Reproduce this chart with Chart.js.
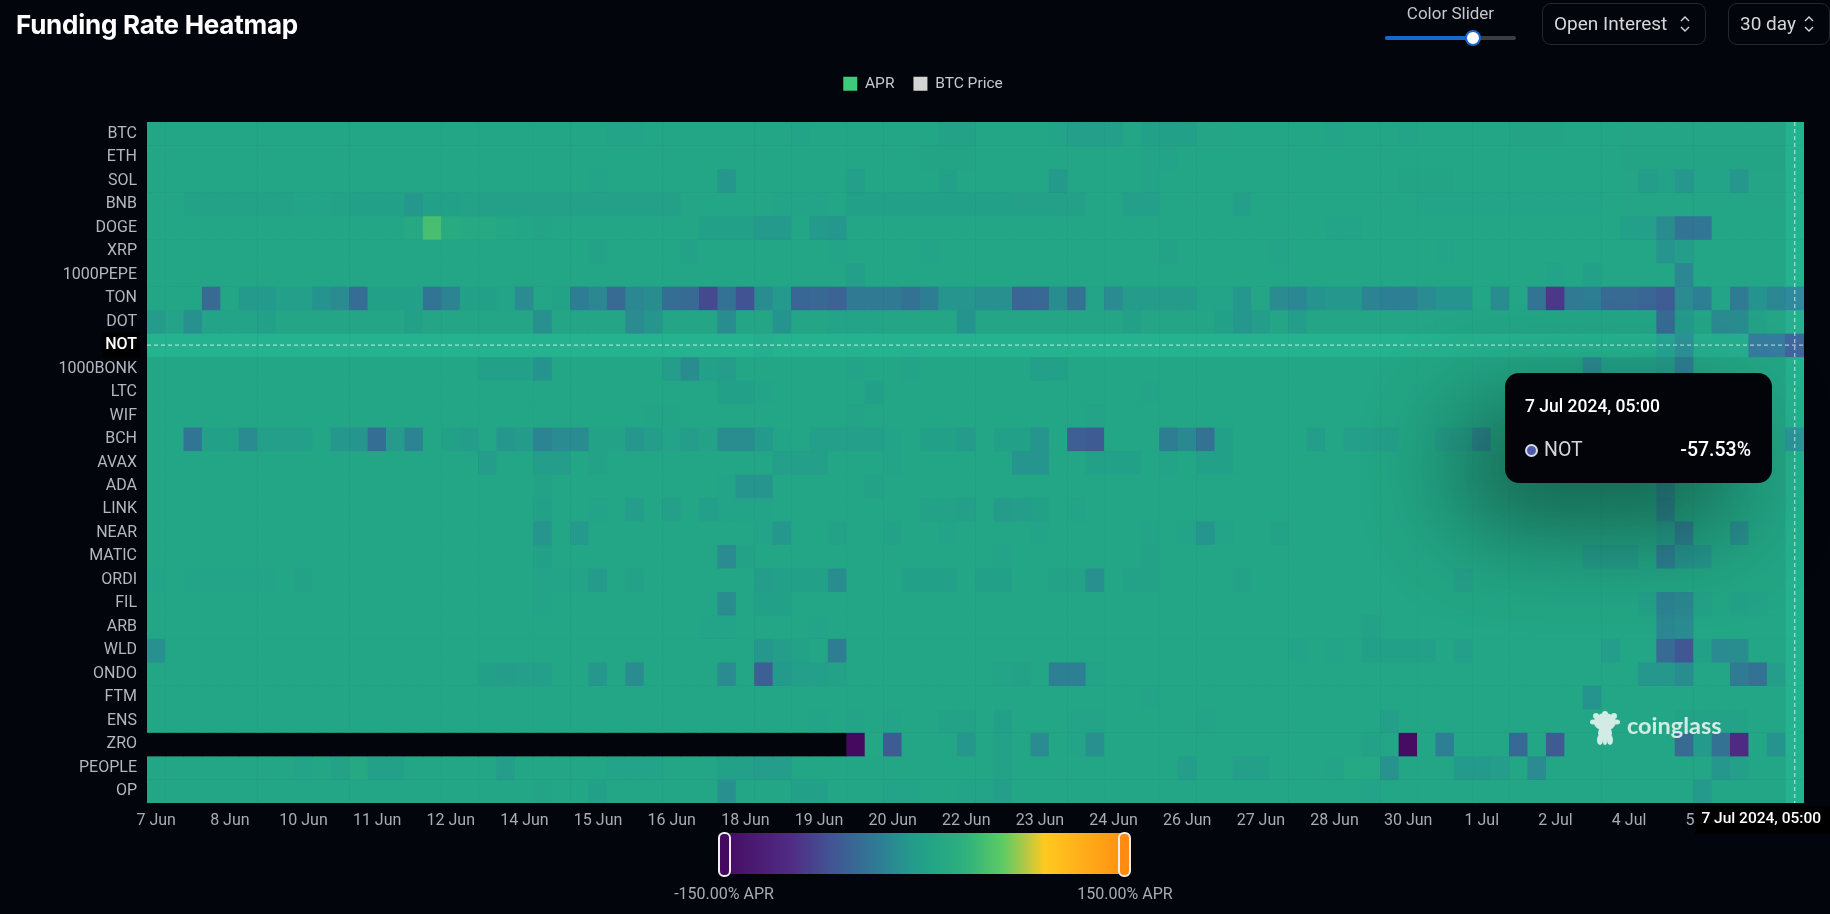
<!DOCTYPE html>
<html>
<head>
<meta charset="utf-8">
<title>Funding Rate Heatmap</title>
<script src="https://cdn.jsdelivr.net/npm/chart.js@4"></script>
<style>
    html, body { margin: 0; padding: 0; background: #03050c; width: 1830px; height: 914px; overflow: hidden; font-family: Roboto, sans-serif; }
    #wrap { position: relative; width: 1830px; height: 914px; }
    canvas { position: absolute; left: 0; top: 0; }
    .abs { position: absolute; white-space: nowrap; }
    #title { left: 16px; top: 9px; font: 700 26px Inter, sans-serif; letter-spacing: -0.25px; color: #fff; }
    #sliderLabel { left: 1385px; width: 131px; top: 3px; text-align: center; font-size: 17px; color: #c4c7cc; }
    #track { left: 1385px; top: 36px; width: 131px; height: 4px; background: #3a3d42; border-radius: 2px; }
    #trackFill { left: 1385px; top: 36px; width: 88px; height: 4px; background: #1668d0; border-radius: 2px; }
    #thumb { left: 1465px; top: 30px; width: 12px; height: 12px; background: #fff; border: 2px solid #1668d0; border-radius: 50%; }
    .select { top: 3px; height: 40px; line-height: 40px; border: 1px solid #24272e; border-radius: 9px; color: #d5d7da; font-size: 19px; padding-left: 11px; box-sizing: content-box; }
    .select svg { position: absolute; right: 15px; top: 10px; }
    #colorBar { left: 718px; top: 833px; width: 412px; height: 41px; border-radius: 3px; }
    .handle { top: 832px; width: 9px; height: 41px; border: 2px solid #eee; border-radius: 6px; }
    .barLabel { top: 884px; width: 160px; text-align: center; font-size: 16px; color: #a9acb1; }
    #tip { left: 1505px; top: 373px; width: 267px; height: 110px; background: #02040a; border-radius: 14px; box-shadow: -40px 40px 100px rgba(0, 0, 0, 0.45); color: #fff; }
    #tipDate { position: absolute; left: 20px; top: 23px; font-size: 17.5px; font-weight: 500; }
    #tipDot { position: absolute; left: 20px; top: 71px; width: 9px; height: 9px; border-radius: 50%; border: 2px solid #d5d9e8; }
    #tipName { position: absolute; left: 39px; top: 65px; font-size: 19.5px; color: #d5d7da; }
    #tipValue { position: absolute; right: 21px; top: 65px; font-size: 19.5px; font-weight: 500; }
    #logo { left: 1590px; top: 711px; color: #d2ebe4; }
    #logoText { left: 1627px; top: 711px; font: 700 23.5px Lato, sans-serif; color: #d2ebe4; }
</style>
</head>
<body>
<div id="wrap">
    <canvas id="heatmap" width="1830" height="914"></canvas>
    <div class="abs" id="title">Funding Rate Heatmap</div>
    <div class="abs" id="sliderLabel">Color Slider</div>
    <div class="abs" id="track"></div>
    <div class="abs" id="trackFill"></div>
    <div class="abs" id="thumb"></div>
    <div class="abs select" style="left:1542px;width:151px">Open Interest<svg width="10" height="20" viewBox="0 0 10 20" fill="none" stroke="#d5d7da" stroke-width="1.4"><path d="M1 7l4-4 4 4M1 13l4 4 4-4"/></svg></div>
    <div class="abs select" style="left:1728px;width:89px">30 day<svg width="10" height="20" viewBox="0 0 10 20" fill="none" stroke="#d5d7da" stroke-width="1.4"><path d="M1 7l4-4 4 4M1 13l4 4 4-4"/></svg></div>
    <div class="abs" id="colorBar"></div>
    <div class="abs handle" style="left:718px;background:#45095f"></div>
    <div class="abs handle" style="left:1118px;background:#ff8c10"></div>
    <div class="abs barLabel" id="minLabel" style="left:644px"></div>
    <div class="abs barLabel" id="maxLabel" style="left:1045px"></div>
    <svg class="abs" id="logo" width="32" height="36" viewBox="0 0 32 36" fill="currentColor"><ellipse cx="15" cy="11" rx="11" ry="9"/><circle cx="6" cy="5" r="3"/><circle cx="24" cy="5" r="3"/><circle cx="15" cy="3" r="3"/><ellipse cx="3" cy="11" rx="3" ry="2.5"/><ellipse cx="27" cy="11" rx="3" ry="2.5"/><ellipse cx="15" cy="22" rx="7" ry="7"/><ellipse cx="10" cy="29" rx="3" ry="5"/><ellipse cx="20" cy="29" rx="3" ry="5"/><ellipse cx="15" cy="30" rx="2" ry="4"/></svg>
    <div class="abs" id="logoText">coinglass</div>
    <div class="abs" id="tip">
        <div id="tipDate"></div>
        <div id="tipDot"></div>
        <div id="tipName"></div>
        <div id="tipValue"></div>
    </div>
</div>
<script>
const symbols = ['BTC', 'ETH', 'SOL', 'BNB', 'DOGE', 'XRP', '1000PEPE', 'TON', 'DOT', 'NOT', '1000BONK', 'LTC', 'WIF', 'BCH', 'AVAX', 'ADA', 'LINK', 'NEAR', 'MATIC', 'ORDI', 'FIL', 'ARB', 'WLD', 'ONDO', 'FTM', 'ENS', 'ZRO', 'PEOPLE', 'OP']

// en etikett var fjärde kolumn
const xTickLabels = ['7 Jun', '8 Jun', '10 Jun', '11 Jun', '12 Jun', '14 Jun', '15 Jun', '16 Jun', '18 Jun', '19 Jun', '20 Jun', '22 Jun', '23 Jun', '24 Jun', '26 Jun', '27 Jun', '28 Jun', '30 Jun', '1 Jul', '2 Jul', '4 Jul', '5 Jul', '6 Jul']

const btc = [8,8,8,8,8,8,8,8,8,8, 8,8,8,8,8,8,8,8,8,8, 8,8,8,8,8,3,3,8,8,8, 8,8,8,8,8,3,8,8,8,8, 8,8,8,2,2,8,8,8,8,3, -2,-2,-2,6,0,0,0,6,6,8, 8,8,8,8,4,8,8,8,4,8, 8,8,8,8,7,7,7,8,8,8, 6,6,6,6,6,6,6,6,6,8]
const eth = [8,8,8,8,8,8,8,8,8,8, 8,8,8,8,8,8,8,8,8,8, 8,8,8,8,8,8,8,8,8,8, 8,8,6,8,8,8,8,8,8,8, 8,8,7,7,7,8,8,8,8,8, 8,8,8,8,4,4,8,8,8,8, 8,8,8,8,8,8,8,8,8,8, 8,8,8,8,8,8,8,8,8,8, 7,7,7,7,7,7,7,7,7,8]
const sol = [8,8,8,8,8,8,8,8,8,8, 8,8,8,8,8,8,8,8,8,8, 8,8,8,8,3,8,8,8,8,8, 8,-12,8,8,8,8,8,8,-2,8, 8,8,8,0,8,8,8,8,8,-10, 8,8,8,8,3,8,8,8,8,8, 8,8,8,8,8,8,8,8,7,7, 7,8,8,8,8,8,8,8,8,8, 6,-5,2,-12,3,3,-12,6,6,8]
const bnb = [8,8,2,2,2,2,2,2,3,3, 2,0,0,0,-12,0,0,2,-1,-1, -1,-1,-1,-1,-1,-1,-1,-1,-1,6, 8,8,8,8,3,3,3,8,1,1, 1,1,1,1,1,1,1,-1,-1,-1, -1,8,8,-3,-3,8,8,8,8,-2, 8,8,8,8,8,8,8,8,8,3, 3,3,3,3,3,3,3,3,3,8, 6,6,6,6,6,6,6,6,6,8]
const doge = [8,8,8,8,8,8,8,8,8,8, 8,8,8,8,14,45,20,15,15,10, 8,5,8,8,8,8,8,8,8,8, 0,0,0,-10,-10,8,-10,-12,8,8, 8,8,8,8,8,8,8,8,8,8, 8,8,8,8,8,8,8,8,8,8, 8,8,8,8,4,4,8,8,8,8, 8,8,8,8,8,8,8,8,8,8, 0,-2,-20,-40,-38,8,8,8,8,8]
const xrp = [8,8,8,8,8,8,8,8,8,8, 8,8,8,8,8,8,8,8,8,8, 8,8,8,8,2,8,8,8,8,2, 8,8,8,8,8,8,8,4,8,8, 8,8,3,8,8,8,8,8,8,8, 8,8,8,8,8,2,8,8,8,8, 8,3,8,8,8,8,8,8,8,8, 4,8,8,8,8,8,8,8,8,8, 8,8,-14,-5,8,8,8,8,8,8]
const pepe = [8,8,8,8,8,8,8,8,8,8, 8,8,8,8,8,8,8,8,8,8, 8,8,8,8,8,8,8,8,8,8, 8,8,8,8,8,8,8,8,-3,8, 8,8,8,8,8,8,8,8,8,8, 8,8,8,8,8,8,8,8,8,8, 8,8,8,8,8,8,8,8,8,8, 8,8,8,8,8,8,3,8,1,8, 8,8,8,-25,8,8,8,8,8,8]
const ton = [8,8,8,-48,8,-10,-10,-3,-3,-15, -22,-45,1,1,1,-40,-28,0,0,4, -22,6,2,-32,-25,-48,-25,-20,-45,-48, -75,-42,-68,-20,-10,-52,-50,-55,-35,-35, -35,-42,-32,-14,-14,-18,-18,-52,-50,-20, -42,3,-22,-8,-8,-8,-8,4,4,-12, 6,-22,-25,-15,-12,-12,-28,-30,-30,-22, -15,-15,8,-20,8,-40,-88,-35,-32,-48, -48,-52,-60,-22,-30,4,-35,-15,-25,-30]
const dot = [-8,4,-18,3,3,3,0,6,6,6, 6,6,6,6,0,6,6,6,6,6, 6,-18,6,6,6,6,-22,-14,6,6, 6,-20,6,6,-15,6,6,3,3,3, 6,6,6,6,-15,6,6,6,6,6, 6,6,6,1,6,6,6,6,0,-12, -5,6,-4,6,6,6,6,6,6,6, 6,6,6,6,6,6,6,6,6,6, 6,6,-48,-10,6,-22,-20,2,6,6]
const not = [8,8,8,8,8,8,8,8,8,8, 8,8,8,8,8,8,8,8,8,8, 8,8,8,8,8,8,8,8,8,8, 8,8,8,3,8,8,8,8,8,8, 8,8,8,8,8,8,8,8,8,8, 8,8,8,8,8,8,8,8,8,8, 8,8,8,8,8,8,8,8,8,8, 8,8,8,8,8,8,8,8,8,8, 8,8,-8,-22,6,4,4,-40,-40,-57.53]
const bonk = [8,8,8,8,8,8,8,8,8,8, 8,8,8,8,8,8,8,8,1,1, 1,-15,8,8,8,8,8,8,-5,-20, 0,-5,8,8,8,8,8,8,3,8, 8,3,8,8,8,8,8,8,-3,0, 8,8,8,8,8,8,8,8,8,8, 8,8,8,8,8,8,8,8,8,8, 8,8,8,8,8,8,8,8,-22,0, 0,0,-8,-30,8,8,8,8,8,8]
const ltc = [8,8,8,8,8,8,8,8,8,8, 8,8,8,8,8,8,8,8,8,8, 8,8,8,8,8,8,8,8,8,8, 8,1,1,3,8,8,8,8,8,0, 8,8,8,8,8,8,8,8,8,8, 8,8,8,8,4,8,8,8,8,8, 8,8,8,8,8,8,8,8,8,8, 8,8,8,8,8,8,8,8,8,8, 8,8,8,8,8,8,8,8,8,8]
const wif = [8,8,8,8,8,8,8,8,8,8, 8,8,8,8,8,8,8,8,8,8, 8,8,8,8,8,8,8,5,5,8, 8,8,8,8,8,8,8,8,3,8, 8,8,8,8,8,8,8,8,8,8, 8,3,8,8,8,8,8,8,8,8, 8,8,8,8,8,8,8,8,8,8, 8,8,8,8,8,8,8,8,8,8, 8,8,8,8,8,8,8,8,8,8]
const bch = [8,8,-40,0,0,-22,-2,-2,-2,8, -12,-14,-45,-8,-28,8,0,-6,8,-12, -8,-28,-22,-22,2,2,-12,-5,3,-6, 2,-20,-20,-10,3,8,-2,-2,-2,-2, 3,8,0,0,-8,8,1,1,-14,8, -58,-62,8,8,8,-32,-24,-42,0,8, 8,8,8,-6,8,-3,-3,-3,8,8, -3,-3,-22,8,8,8,8,8,8,8, 8,8,8,8,8,8,8,8,8,-20]
const avax = [8,8,8,8,8,8,8,8,8,8, 8,8,8,8,8,8,8,8,-6,8, 8,-5,-5,8,2,8,8,8,8,8, 8,8,8,8,-2,-2,-2,8,8,8, 3,8,8,8,8,8,8,-14,-14,8, 8,0,0,0,8,3,8,0,0,8, 8,8,8,8,8,8,8,8,8,8, 8,8,8,8,8,8,8,8,8,8, 8,8,8,8,8,8,8,8,8,8]
const ada = [8,8,8,8,8,8,8,8,8,8, 8,8,8,8,8,8,8,8,8,8, 8,2,8,8,8,8,8,8,8,8, 8,3,-14,-14,8,8,8,8,8,2, 8,8,8,8,8,8,8,8,8,8, 8,8,8,8,8,8,8,8,8,8, 8,8,8,8,8,8,8,8,8,8, 8,8,8,8,8,8,8,8,8,8, 8,8,-18,8,8,8,8,8,8,8]
const link = [8,8,8,8,8,8,8,8,8,8, 8,8,8,8,8,8,8,8,8,8, 8,1,8,8,3,8,-6,8,-2,8, -2,3,4,4,8,8,8,8,8,8, 8,8,2,2,-2,8,-8,-6,0,8, 4,8,8,8,8,8,8,8,8,8, 8,8,8,8,8,8,8,8,8,8, 8,8,8,8,8,8,8,8,8,8, 8,8,-22,8,8,8,8,8,8,8]
const near = [8,8,8,8,8,8,8,8,8,8, 8,8,8,8,8,8,8,8,8,8, 8,-14,8,-10,8,8,8,8,8,8, 8,8,8,3,-12,8,8,2,8,8, 2,8,8,3,8,8,8,8,4,8, 8,8,8,8,3,8,3,-14,4,8, 8,2,8,8,8,8,8,8,8,8, 8,8,8,8,8,8,8,8,8,8, 8,8,-5,-28,8,8,-18,8,8,8]
const matic = [8,8,8,8,8,8,8,8,8,8, 8,8,8,8,8,8,8,8,8,8, 8,1,8,8,8,8,8,8,8,8, 8,-22,2,8,8,8,8,8,8,8, 8,8,8,8,8,8,3,8,8,8, 8,8,8,8,2,8,8,8,8,8, 8,8,8,8,8,8,8,8,8,8, 8,8,8,8,8,8,8,8,-5,-5, -5,8,-30,-15,-12,8,8,8,8,8]
const ordi = [3,8,4,4,4,4,4,8,2,8, 8,8,8,8,8,8,8,8,8,8, 8,3,3,3,-8,8,2,8,8,8, 8,8,8,-5,0,0,0,-20,8,8, 8,0,0,0,8,1,1,8,8,2, 2,-18,8,2,2,8,8,8,8,2, 8,8,8,8,8,8,8,8,8,8, 8,-2,8,8,8,8,8,8,8,8, 8,8,8,8,8,8,8,8,8,8]
const fil = [8,8,8,8,8,8,8,8,8,8, 8,8,8,8,8,8,8,8,8,8, 8,3,8,8,8,8,8,8,8,8, 8,-20,8,1,1,8,8,8,8,8, 8,8,8,8,8,8,8,8,8,8, 8,8,8,8,8,8,8,8,8,8, 8,8,8,8,8,8,8,8,8,8, 8,8,8,8,8,8,8,8,8,8, 8,0,-28,-25,2,8,2,3,8,8]
const arb = [8,8,8,8,8,8,8,8,8,8, 8,8,8,8,8,8,8,8,8,8, 8,8,8,8,8,8,8,8,8,8, 3,3,8,8,8,8,4,8,8,8, 8,8,8,8,8,8,8,8,8,8, 8,8,8,8,8,8,8,8,8,8, 8,8,8,8,8,8,2,8,8,8, 8,8,8,8,8,8,8,8,8,8, 8,8,-25,-22,8,8,8,8,8,8]
const wld = [-18,8,8,8,8,8,8,8,8,8, 8,8,8,8,8,8,8,8,8,8, 8,8,8,8,8,8,8,8,8,8, 8,8,8,-12,-6,2,8,-32,8,8, 8,8,8,8,8,8,8,8,8,8, 8,8,8,8,8,8,8,8,8,8, 8,8,3,8,3,8,0,0,0,0, 8,-3,8,8,8,8,8,8,8,-5, 8,8,-48,-65,0,-22,-20,8,8,8]
const ondo = [8,8,8,8,8,8,8,8,8,8, 8,8,8,8,8,8,8,8,0,-5, -2,-2,8,8,-12,8,-22,8,8,8, 8,-22,8,-58,-10,-3,-3,2,8,8, 8,8,8,8,8,8,4,2,8,-30, -30,3,8,8,8,8,8,8,8,8, 8,8,8,8,8,8,8,8,8,8, 8,8,8,8,8,8,8,8,8,8, 8,-12,-12,-20,8,8,-35,-42,-5,8]
const ftm = [8,8,8,8,8,8,8,8,8,8, 8,8,8,8,8,8,8,8,8,8, 8,8,8,8,8,8,8,8,8,8, 8,8,8,8,8,8,8,8,8,8, 8,8,8,8,8,8,8,8,8,8, 8,8,8,8,3,8,8,8,8,8, 8,8,8,8,8,8,8,8,8,8, 8,8,8,8,8,8,8,8,-15,8, 8,8,8,8,8,8,8,8,8,8]
const ens = [8,8,8,8,8,8,8,8,8,8, 8,8,8,8,8,8,8,8,8,8, 8,8,8,8,8,8,8,8,8,8, 8,8,8,8,8,8,4,8,3,8, 3,8,8,2,2,8,1,8,8,8, 3,3,8,8,8,8,8,4,8,8, 8,8,8,8,8,8,8,-2,8,8, 8,8,8,8,8,8,8,8,8,8, 8,8,8,2,2,2,2,8,8,8]
const zro = [null,null,null,null,null,null,null,null,null,null, null,null,null,null,null,null,null,null,null,null, null,null,null,null,null,null,null,null,null,null, null,null,null,null,null,null,null,null,-148,10, -62,8,8,8,-12,8,2,8,-22,8, 3,-18,8,8,8,8,8,8,8,8, 8,8,8,8,8,8,2,8,-145,8, -30,8,8,8,-50,8,-62,8,8,8, 8,8,8,-48,-10,-42,-100,8,-15,8]
const people = [8,8,8,8,8,8,8,8,3,8, 2,14,0,0,8,8,8,8,8,-4, 8,8,8,8,8,3,4,4,8,8, 8,1,1,-5,-5,8,8,8,8,8, 8,8,8,8,8,8,2,8,8,8, 8,8,8,8,8,8,-4,8,8,-2, 0,8,8,8,3,12,12,-16,8,8, 8,-10,-10,-6,8,-22,8,8,8,8, 8,8,8,8,8,-12,-2,8,8,8]
const op = [8,8,8,8,8,8,8,8,8,8, 8,8,8,8,8,8,8,8,8,8, 8,5,8,8,1,8,8,8,8,8, 8,-18,8,8,8,1,1,8,8,8, 3,3,8,8,3,3,-2,8,8,8, 8,8,8,8,8,8,8,8,8,8, 8,8,8,8,8,8,4,8,8,8, 8,8,8,8,8,8,8,8,8,8, 8,8,8,8,-10,8,8,8,8,8]

const rows = [btc, eth, sol, bnb, doge, xrp, pepe, ton, dot, not, bonk, ltc, wif, bch, avax, ada, link, near, matic, ordi, fil, arb, wld, ondo, ftm, ens, zro, people, op]

// färgskalan, läst från färgfältet under diagrammet
const stopValues = [-150, -97, -66, -34, -10, 8, 30, 57, 72, 88, 113, 150]
const stopColors = ['#45095f', '#4f2c84', '#415694', '#2f7b94', '#249a8c', '#23a685', '#2eb07e', '#5ccb65', '#a8c94a', '#ffca1f', '#ffb01a', '#ff8c10']

const activeRow = symbols.indexOf('NOT')
const activeCol = 89
const pageColor = '#03050c'

function hexToRgb(hex) {
    return [1, 3, 5].map((i) => parseInt(hex.slice(i, i + 2), 16))
}

function cellColor(value, row, col) {
    if (value === null) return pageColor
    let i = 0
    while (i < stopValues.length - 2 && value > stopValues[i + 1]) i++
    const t = (value - stopValues[i]) / (stopValues[i + 1] - stopValues[i])
    const a = hexToRgb(stopColors[i])
    const b = hexToRgb(stopColors[i + 1])
    // raden och kolumnen under pekaren är lite ljusare
    const boost = row === activeRow || col === activeCol ? 1.07 : 1
    const rgb = a.map((c, k) => Math.min(255, Math.round((c + (b[k] - c) * t) * boost)))
    return `rgb(${rgb.join(',')})`
}

const columns = rows[0].map((_, i) => i)

const datasets = rows.map((values, r) => ({
    label: symbols[r],
    data: columns.map(() => [r, r + 1]),
    backgroundColor: values.map((v, c) => cellColor(v, r, c)),
    borderWidth: 0,
    barPercentage: 1,
    categoryPercentage: 1,
    grouped: false
}))

// legenden ska ta mer plats ovanför diagrammet
const legendGap = {
    id: 'legendGap',
    beforeInit(chart) {
        const fit = chart.legend.fit
        chart.legend.fit = function () {
            fit.call(this)
            this.height = 65
        }
    }
}

// streckade linjer och datumrutan för pekaren
const crosshair = {
    id: 'crosshair',
    afterDatasetsDraw(chart) {
        const { ctx, chartArea, scales } = chart
        const px = scales.x.getPixelForValue(activeCol)
        const py = scales.y.getPixelForValue(activeRow + 0.5)
        ctx.save()
        ctx.strokeStyle = 'rgba(235, 250, 245, 0.8)'
        ctx.lineWidth = 1
        ctx.setLineDash([4, 3])
        ctx.beginPath()
        ctx.moveTo(chartArea.left, py)
        ctx.lineTo(chartArea.right, py)
        ctx.moveTo(px, chartArea.top)
        ctx.lineTo(px, chartArea.bottom)
        ctx.stroke()
        ctx.setLineDash([])
        ctx.fillStyle = '#000'
        ctx.fillRect(1695, chartArea.bottom + 3, 135, 28)
        ctx.fillStyle = '#fff'
        ctx.font = '500 15.5px Roboto'
        ctx.textAlign = 'right'
        ctx.textBaseline = 'middle'
        ctx.fillText('7 Jul 2024, 05:00', 1821, chartArea.bottom + 16)
        ctx.restore()
    }
}

new Chart(document.getElementById('heatmap'), {
    type: 'bar',
    data: { labels: columns, datasets: datasets },
    plugins: [legendGap, crosshair],
    options: {
        responsive: false,
        animation: false,
        events: [],
        layout: { padding: { top: 57, right: 26, left: 42, bottom: 0 } },
        plugins: {
            tooltip: { enabled: false },
            legend: {
                display: true,
                position: 'top',
                onClick: null,
                labels: {
                    boxWidth: 14,
                    boxHeight: 14,
                    padding: 19,
                    color: '#c6c9ce',
                    font: { family: 'Roboto', size: 15.5 },
                    generateLabels: () => [
                        { text: 'APR', fillStyle: '#3ccb7a', strokeStyle: '#3ccb7a', lineWidth: 0, fontColor: '#c6c9ce' },
                        { text: 'BTC Price', fillStyle: '#d4d4d4', strokeStyle: '#d4d4d4', lineWidth: 0, fontColor: '#c6c9ce' }
                    ]
                }
            }
        },
        scales: {
            x: {
                grid: { display: false, drawTicks: false },
                border: { display: false },
                afterFit: (axis) => { axis.height = 111 },
                ticks: {
                    autoSkip: false,
                    maxRotation: 0,
                    padding: 8,
                    color: '#a9acb1',
                    font: { family: 'Roboto', size: 16 },
                    callback: (value, i) => (i % 4 === 0 ? xTickLabels[i / 4] : '')
                }
            },
            y: {
                type: 'linear',
                min: 0,
                max: symbols.length,
                reverse: true,
                grid: { display: false, drawTicks: false },
                border: { display: false },
                afterFit: (axis) => { axis.width = 105 },
                afterBuildTicks: (axis) => {
                    axis.ticks = symbols.map((s, i) => ({ value: i + 0.5 }))
                },
                ticks: {
                    autoSkip: false,
                    padding: 10,
                    color: (c) => (c.index === activeRow ? '#fff' : '#b4b7bc'),
                    font: (c) => ({ family: 'Roboto', size: 16, weight: c.index === activeRow ? '500' : '400' }),
                    showLabelBackdrop: (c) => c.index === activeRow,
                    backdropColor: '#000',
                    backdropPadding: 3,
                    callback: (value) => symbols[Math.floor(value)]
                }
            }
        }
    }
})

// färgfältet och pekarens ruta byggs från samma listor
const gradient = stopValues.map((v, i) => `${stopColors[i]} ${((v + 150) / 300) * 100}%`)
document.getElementById('colorBar').style.background = `linear-gradient(to right, ${gradient.join(', ')})`
document.getElementById('minLabel').textContent = '-150.00% APR'
document.getElementById('maxLabel').textContent = '150.00% APR'
document.getElementById('tipDate').textContent = '7 Jul 2024, 05:00'
document.getElementById('tipName').textContent = symbols[activeRow]
document.getElementById('tipValue').textContent = `${rows[activeRow][activeCol]}%`
document.getElementById('tipDot').style.background = '#4f5ca8'
</script>
</body>
</html>
